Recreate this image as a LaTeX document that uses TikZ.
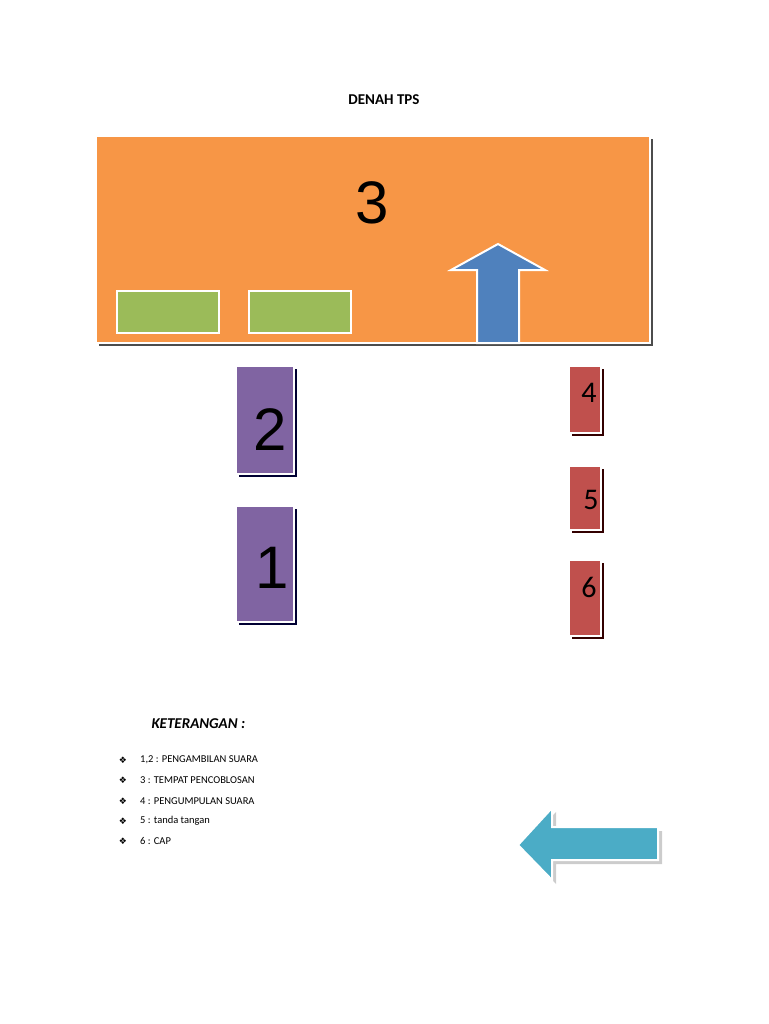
\documentclass[tikz,border=0pt]{standalone}
\usepackage{fontspec}
\setmainfont{Carlito}
\newfontfamily\arialf{Liberation Sans}
\newfontfamily\dejavu{DejaVu Sans}
\begin{document}
\begin{tikzpicture}[x=1pt,y=-1pt,
  box/.style={draw=white,line width=2pt},
  shad/.style={fill=black!75!blue},
  num/.style={font=\arialf\fontsize{60}{60}\selectfont,inner sep=0pt},
  smallnum/.style={font=\fontsize{30}{30}\selectfont,inner sep=0pt},
  leg/.style={anchor=west,font=\fontsize{10.5}{12}\selectfont,inner sep=0pt}]
\useasboundingbox (0,0) rectangle (768,1024);
\node[font=\bfseries\fontsize{15}{18}\selectfont] (title) at (384,100) {DENAH TPS};
% room 3
\fill[black!70] (99,139) rectangle (653,346);
\draw[box,fill={rgb,255:red,247;green,150;blue,70}] (96,136) rectangle (650,343);
\node[num] (n3) at (372,203) {3};
\draw[box,fill={rgb,255:red,155;green,187;blue,89}] (117,291) rectangle (219,333);
\draw[box,fill={rgb,255:red,155;green,187;blue,89}] (249,291) rectangle (351,333);
\draw[box,fill={rgb,255:red,79;green,129;blue,189}] (477,343) -- (477,270) -- (451,270) -- (498,244) -- (545,270) -- (519,270) -- (519,343) -- cycle;
% purple
\foreach \n/\a/\b in {2/366/474,1/506/622}{
  \fill[black!80!blue] (239,\a+3) rectangle (297,\b+3);
  \draw[box,fill={rgb,255:red,128;green,100;blue,162}] (236,\a) rectangle (294,\b);
}
\node[num] (n2) at (270,430) {2};
\node[num] (n1) at (272,568) {1};
% red
\foreach \a/\b in {366/433,466/530,560/636}{
  \fill[black!80!red] (572,\a+3) rectangle (604,\b+3);
  \draw[box,fill={rgb,255:red,192;green,80;blue,77}] (569,\a) rectangle (601,\b);
}
\node[smallnum] (n4) at (589,393) {4};
\node[smallnum] (n5) at (591,500) {5};
\node[smallnum] (n6) at (589,587) {6};
% legend
\node[font=\bfseries\itshape\fontsize{15}{18}\selectfont,anchor=west] (ket) at (148,724) {KETERANGAN :};
\foreach \y/\t in {760/{1,2 : PENGAMBILAN SUARA},780/{3 : TEMPAT PENCOBLOSAN},801/{4 : PENGUMPULAN SUARA},821/{5 : tanda tangan},841/{6 : CAP}}{
  \node[font=\dejavu\fontsize{9}{10}\selectfont,inner sep=0pt] at (123,\y) {❖};
  \node[leg] at (140,\y) {\t};
}
% cyan arrow
\fill[black!20] (522,849) -- (556,812) -- (556,831) -- (662,831) -- (662,864) -- (556,864) -- (556,884) -- cycle;
\draw[box,fill={rgb,255:red,75;green,172;blue,198}] (518,845) -- (552,808) -- (552,827) -- (658,827) -- (658,860) -- (552,860) -- (552,880) -- cycle;
\end{tikzpicture}
\end{document}
